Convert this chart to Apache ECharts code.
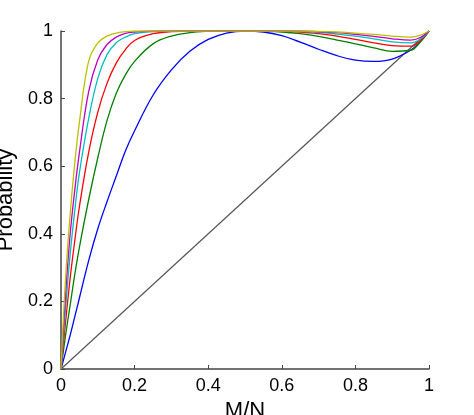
<!DOCTYPE html>
<html>
<head>
<meta charset="utf-8">
<script src="https://cdn.jsdelivr.net/npm/echarts@6/dist/echarts.min.js"></script>
<style>
  html, body { margin: 0; padding: 0; background: #fff; }
  #main { width: 474px; height: 415px; }
</style>
</head>
<body>
<div id="main"></div>
<script>
// M/N sample positions
var xs = [0, 0.0125, 0.025, 0.0375, 0.05, 0.075, 0.1, 0.125, 0.15, 0.175, 0.2, 0.25, 0.3, 0.35,
          0.4, 0.45, 0.5, 0.55, 0.6, 0.65, 0.7, 0.75, 0.8, 0.85, 0.9, 0.95, 0.975, 1];

var blue    = [0, 0.05, 0.10, 0.155, 0.21, 0.32, 0.415, 0.495, 0.57, 0.645, 0.705, 0.81, 0.885, 0.94,
               0.975, 0.994, 1, 0.997, 0.986, 0.967, 0.946, 0.927, 0.914, 0.91, 0.917, 0.943, 0.967, 1];
var green   = [0, 0.1, 0.19, 0.28, 0.36, 0.5, 0.625, 0.735, 0.815, 0.87, 0.91, 0.962, 0.985, 0.995,
               0.999, 1, 1, 0.999, 0.997, 0.992, 0.984, 0.973, 0.962, 0.95, 0.94, 0.943, 0.966, 1];
var red     = [0, 0.14, 0.27, 0.38, 0.48, 0.64, 0.76, 0.845, 0.905, 0.945, 0.972, 0.992, 0.998, 1,
               1, 1, 1, 1, 0.999, 0.997, 0.992, 0.985, 0.975, 0.965, 0.957, 0.955, 0.97, 1];
var cyan    = [0, 0.18, 0.34, 0.47, 0.58, 0.74, 0.86, 0.93, 0.965, 0.982, 0.992, 0.998, 1, 1,
               1, 1, 1, 1, 1, 0.999, 0.996, 0.991, 0.985, 0.977, 0.968, 0.965, 0.975, 1];
var magenta = [0, 0.22, 0.40, 0.53, 0.64, 0.82, 0.915, 0.96, 0.982, 0.993, 0.997, 1, 1, 1,
               1, 1, 1, 1, 1, 1, 0.998, 0.995, 0.99, 0.984, 0.977, 0.973, 0.98, 1];
var yellow  = [0, 0.27, 0.46, 0.61, 0.73, 0.91, 0.965, 0.985, 0.994, 0.998, 1, 1, 1, 1,
               1, 1, 1, 1, 1, 1, 0.999, 0.997, 0.994, 0.99, 0.985, 0.982, 0.987, 1];
var diagX = [0, 1];
var diagY = [0, 1];

var tickLabels = ['0', '0.2', '0.4', '0.6', '0.8', '1'];

function pairs(xv, yv) {
    var out = [];
    for (var i = 0; i < xv.length; i++) out.push([xv[i], yv[i]]);
    return out;
}

function curve(data, color) {
    return {
        type: 'line',
        data: pairs(xs, data),
        smooth: 0.4,
        showSymbol: false,
        lineStyle: { color: color, width: 1.3 },
        silent: true
    };
}

var myChart = echarts.init(document.getElementById('main'));
var axisFont = { fontFamily: 'Liberation Sans, Arial, sans-serif', fontSize: 18, color: '#000' };

var option = {
    animation: false,
    backgroundColor: '#fff',
    grid: { left: 61, right: 45, top: 31, bottom: 46, containLabel: false, outerBoundsMode: 'none' },
    xAxis: {
        type: 'value', min: 0, max: 1, interval: 0.2,
        name: 'M/N', nameLocation: 'middle', nameGap: 31,
        nameTextStyle: { fontFamily: 'Liberation Sans, Arial, sans-serif', fontSize: 22, color: '#000' },
        axisLine: { lineStyle: { color: '#444', width: 1.5 } },
        axisTick: { inside: true, length: 4, lineStyle: { color: '#444' } },
        splitLine: { show: false },
        axisLabel: Object.assign({ margin: 8, formatter: function (v) { return tickLabels[Math.round(v * 5)]; } }, axisFont)
    },
    yAxis: {
        type: 'value', min: 0, max: 1, interval: 0.2,
        name: 'Probability', nameLocation: 'middle', nameGap: 41, nameRotate: 90,
        nameTextStyle: { fontFamily: 'Liberation Sans, Arial, sans-serif', fontSize: 22, color: '#000' },
        axisLine: { show: true, lineStyle: { color: '#444', width: 1.5 } },
        axisTick: { show: true, inside: true, length: 4, lineStyle: { color: '#444' } },
        splitLine: { show: false },
        axisLabel: Object.assign({ margin: 8, formatter: function (v) { return tickLabels[Math.round(v * 5)]; } }, axisFont)
    },
    series: [
        {
            type: 'line',
            data: pairs(diagX, diagY),
            showSymbol: false,
            lineStyle: { color: '#555', width: 1.2 },
            silent: true
        },
        curve(blue, '#0000ff'),
        curve(green, '#008000'),
        curve(red, '#ff0000'),
        curve(cyan, '#00bfbf'),
        curve(magenta, '#bf00bf'),
        curve(yellow, '#bfbf00')
    ]
};

myChart.setOption(option, true);
</script>
</body>
</html>
